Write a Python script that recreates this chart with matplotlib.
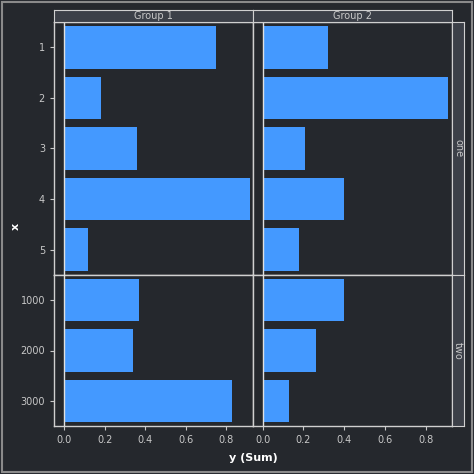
import matplotlib.pyplot as plt
import numpy as np

groups = ['Group 1', 'Group 2']
rows = ['one', 'two']
cats_one = ['1', '2', '3', '4', '5']
cats_two = ['1000', '2000', '3000']
g1_one = [0.75, 0.18, 0.36, 0.92, 0.12]
g2_one = [0.32, 0.91, 0.21, 0.40, 0.18]
g1_two = [0.37, 0.34, 0.83]
g2_two = [0.40, 0.26, 0.13]

bg = '#25282d'
fg = '#c8c8c8'
bar_c = '#4499ff'
strip_c = '#3c4048'

fig = plt.figure(figsize=(4.74, 4.74), dpi=100, facecolor=bg)
W, H = 474, 474
L, R = 54, 452
T, M, B = 22, 275, 426
mid = 252.5
strip_h = 12

data = {('one', 0): g1_one, ('one', 1): g2_one, ('two', 0): g1_two, ('two', 1): g2_two}
cats = {'one': cats_one, 'two': cats_two}
ybounds = {'one': (T, M), 'two': (M, B)}

def fx(px):
    return px / W

def fy(py):
    return 1 - py / H

for r in rows:
    y0, y1 = ybounds[r]
    for c in range(2):
        x0, x1 = (L, mid) if c == 0 else (mid, R)
        ax = fig.add_axes([fx(x0), fy(y1), fx(x1 - x0), (y1 - y0) / H])
        ax.set_facecolor(bg)
        vals = data[(r, c)]
        y = np.arange(len(vals))
        ax.barh(y, vals, height=0.84, color=bar_c, zorder=2)
        ax.axvline(0, color='#e0e0e0', lw=1, zorder=3)
        ax.set_xlim(-0.05, 0.93)
        ax.set_ylim(len(vals) - 0.5, -0.5)
        for s in ax.spines.values():
            s.set_color('#d0d0d0')
            s.set_linewidth(1)
        ax.tick_params(colors=fg, labelsize=7, length=3)
        if c == 0:
            ax.set_yticks(y)
            ax.set_yticklabels(cats[r])
        else:
            ax.set_yticks([])
        if r == 'two':
            ax.set_xticks([0, 0.2, 0.4, 0.6, 0.8])
            ax.set_xticklabels(['0.0', '0.2', '0.4', '0.6', '0.8'])
        else:
            ax.set_xticks([])
        if c == 1:
            sax = fig.add_axes([fx(R), fy(y1), fx(strip_h), (y1 - y0) / H])
            sax.set_facecolor(strip_c)
            sax.set_xticks([]); sax.set_yticks([])
            for s in sax.spines.values():
                s.set_color('#d0d0d0')
            sax.text(0.5, 0.5, r, rotation=-90, ha='center', va='center', color=fg, fontsize=7)

for c, g in enumerate(groups):
    x0, x1 = (L, mid) if c == 0 else (mid, R)
    sax = fig.add_axes([fx(x0), fy(T), fx(x1 - x0), strip_h / H])
    sax.set_facecolor(strip_c)
    sax.set_xticks([]); sax.set_yticks([])
    for s in sax.spines.values():
        s.set_color('#d0d0d0')
    sax.text(0.5, 0.5, g, ha='center', va='center', color=fg, fontsize=7)

fig.text(fx(16), fy(226), 'x', rotation=90, ha='center', va='center', color='white', fontsize=8, fontweight='bold')
fig.text(fx(253), fy(458), 'y (Sum)', ha='center', va='center', color='white', fontsize=8, fontweight='bold')

fig.patches.append(plt.Rectangle((0.005, 0.005), 0.99, 0.99, transform=fig.transFigure,
                                 fill=False, edgecolor='#8a8a8a', lw=1.5))

fig.savefig('out.png', dpi=100, facecolor=bg)
